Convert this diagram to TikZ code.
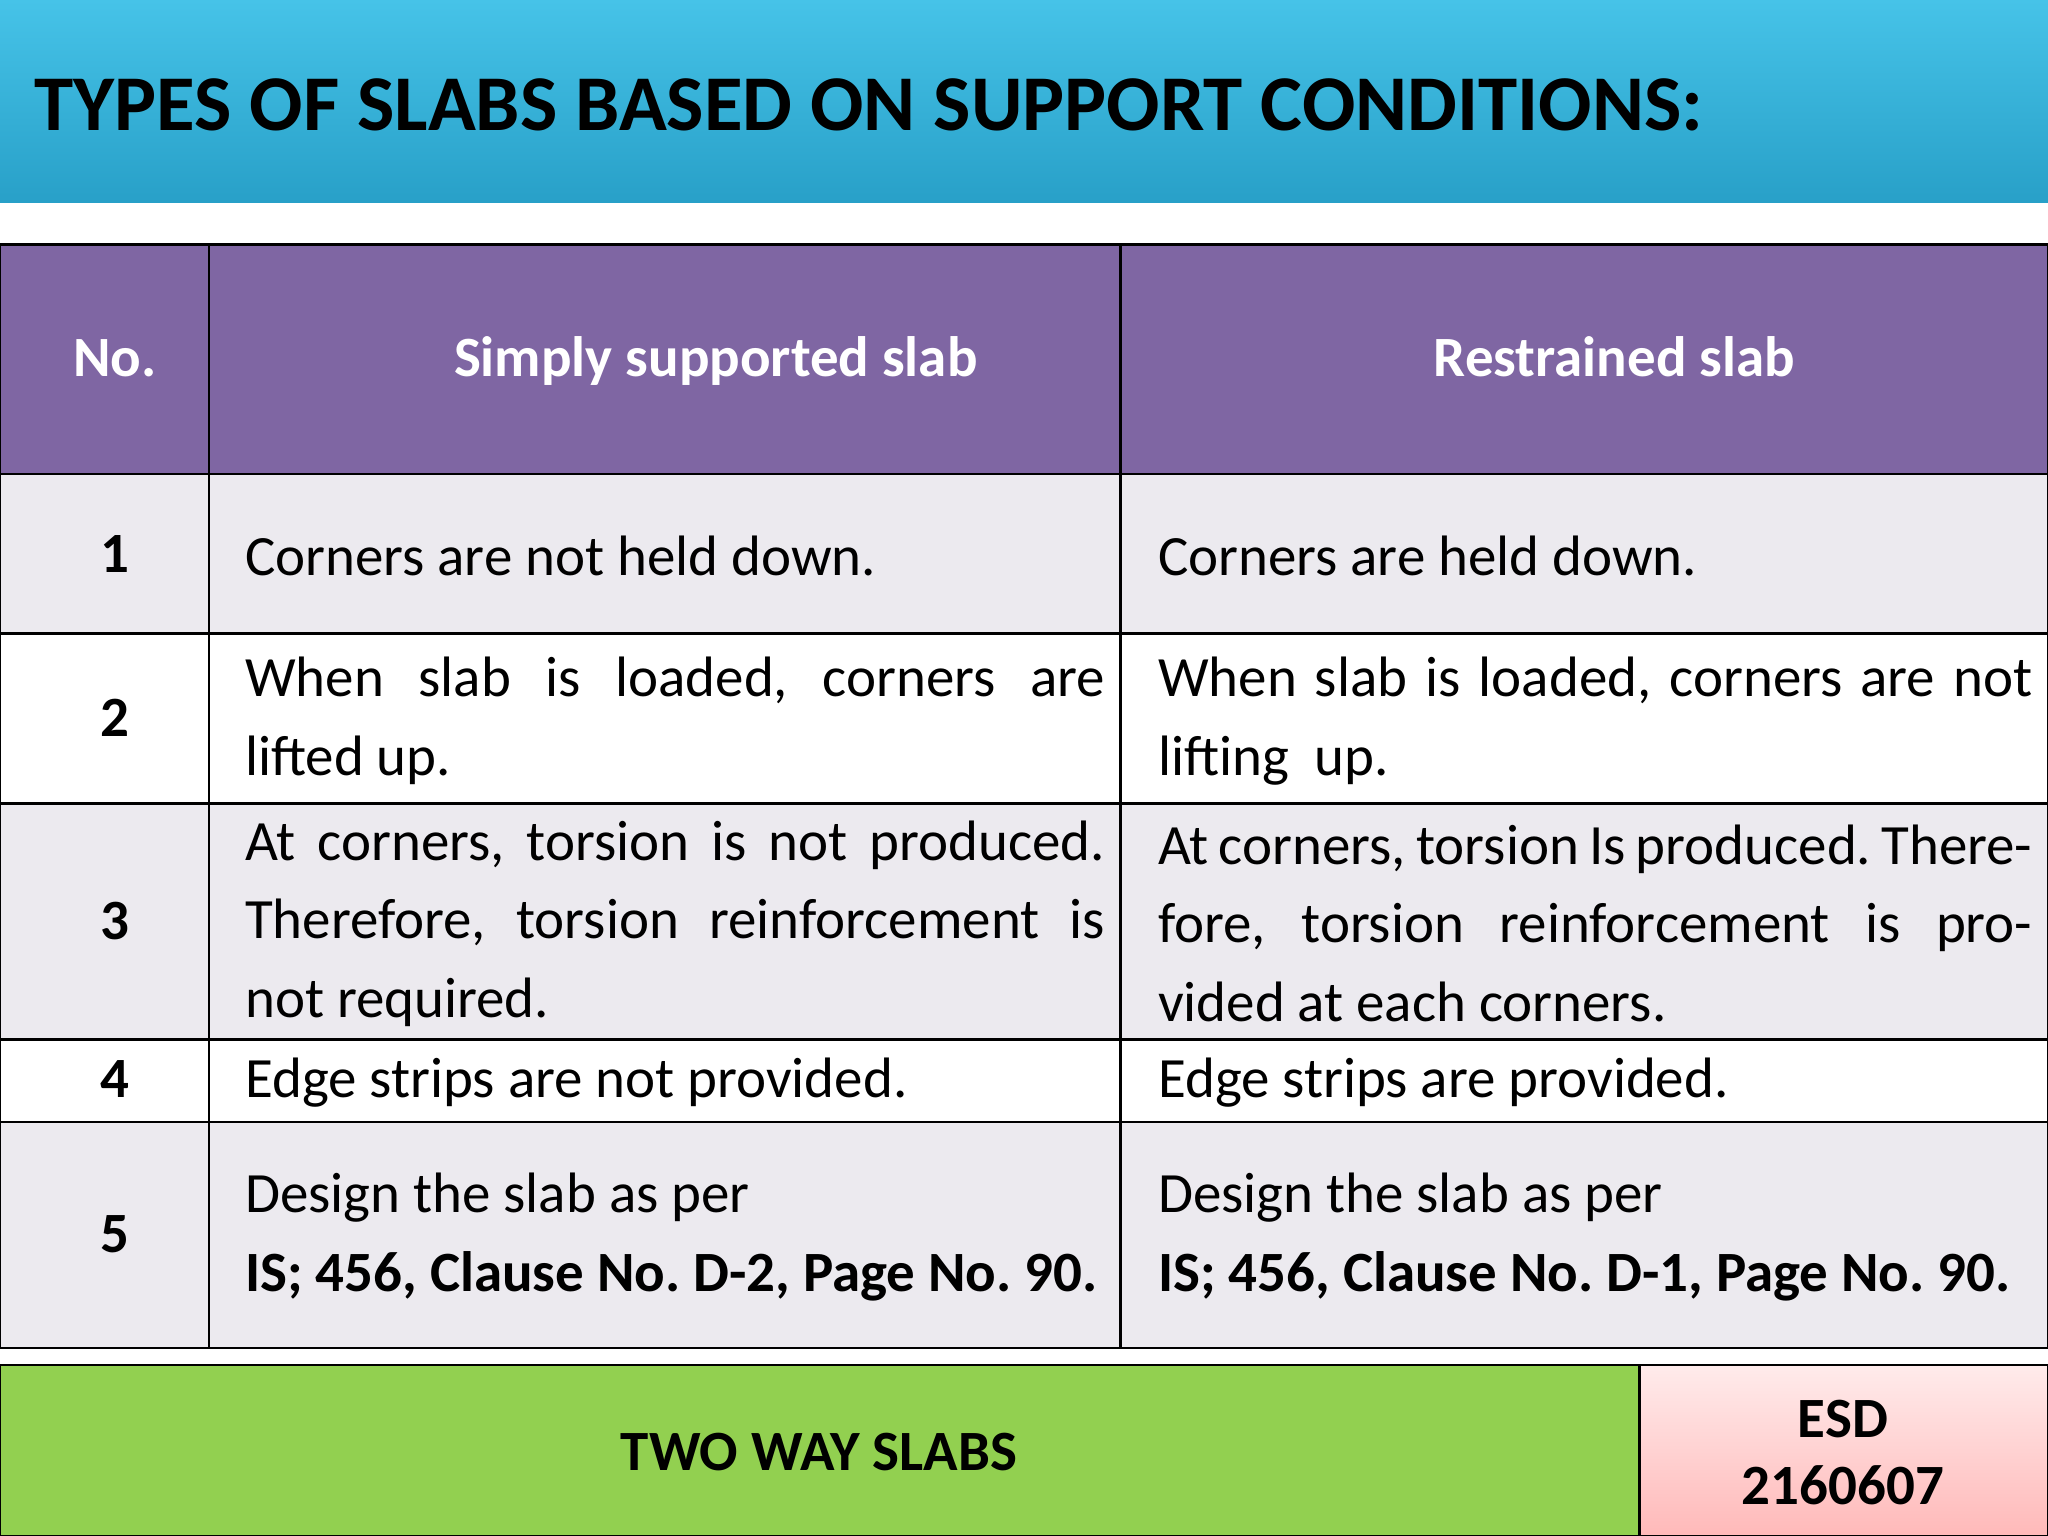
\documentclass[tikz,border=0pt]{standalone}
\usepackage{fontspec}
\setmainfont{Carlito}
\frenchspacing
\definecolor{hdr}{HTML}{7F66A3}
\definecolor{gr}{HTML}{ECEAEF}
\definecolor{lg}{HTML}{92D050}
\begin{document}
\begin{tikzpicture}[x=0.01cm,y=-0.01cm,
  cell/.style={anchor=west,align=justify,inner sep=0pt,font=\fontsize{12.4}{17.1}\selectfont\frenchspacing},
  num/.style={font=\fontsize{12.4}{17}\selectfont\bfseries},
  hd/.style={font=\fontsize{12.4}{17}\selectfont\bfseries,text=white}]
\useasboundingbox (0,0) rectangle (1568,1176);
\fill[white] (0,0) rectangle (1568,1176);
\shade[top color={rgb,255:red,70;green,195;blue,232}, bottom color={rgb,255:red,40;green,160;blue,200}] (0,0) rectangle (1568,155);
\node[anchor=west,font=\fontsize{17.2}{20}\selectfont\bfseries] (title) at (14,80) {TYPES OF SLABS BASED ON SUPPORT CONDITIONS:};
\fill[hdr] (0,187) rectangle (1568,363);
\fill[gr] (0,363) rectangle (1568,485);
\fill[gr] (0,615) rectangle (1568,796);
\fill[gr] (0,859) rectangle (1568,1032);
\draw[line width=0.6pt] (0,187) rectangle (1568,1032);
\foreach \y in {363,485,615,796,859} \draw[line width=0.6pt] (0,\y) -- (1568,\y);
\foreach \x in {160,858} \draw[line width=0.6pt] (\x,187) -- (\x,1032);
\node[hd] (h0) at (88,276) {\strut No.};
\node[hd] (h1) at (548,276) {\strut Simply supported slab};
\node[hd] (h2) at (1236,276) {\strut Restrained slab};
\foreach \n/\y in {1/426,2/552,3/707,4/828,5/947} \node[num] (n\n) at (88,\y) {\strut\n};
\node[cell,text width=6.58cm] (a1) at (187,426) {Corners are not held down.};
\node[cell,text width=6.69cm] (b1) at (886,426) {Corners are held down.};
\node[cell,text width=6.58cm] (a2) at (187,552) {When slab is loaded, corners are\linebreak lifted up.};
\node[cell,text width=6.69cm] (b2) at (886,552) {When slab is loaded, corners are not lifting\ \ up.};
\node[cell,text width=6.58cm] (a3) at (187,707) {At corners, torsion is not produced. Therefore, torsion reinforcement is not required.};
\node[cell,text width=6.69cm] (b3) at (886,707) {At corners, torsion Is produced. Therefore, torsion reinforcement is provided at each corners.};
\node[cell,text width=6.58cm] (a4) at (187,829) {Edge strips are not provided.};
\node[cell,text width=6.69cm] (b4) at (886,829) {Edge strips are provided.};
\node[cell,align=left] (a5) at (187,947) {Design the slab as per\\\textbf{IS; 456, Clause No. D-2, Page No. 90.}};
\node[cell,align=left] (b5) at (886,947) {Design the slab as per\\\textbf{IS; 456, Clause No. D-1, Page No. 90.}};
\fill[lg] (0,1045) rectangle (1255,1176);
\shade[top color={rgb,255:red,255;green,235;blue,235}, bottom color={rgb,255:red,255;green,185;blue,185}] (1255,1045) rectangle (1568,1176);
\draw[line width=0.6pt] (0,1045) rectangle (1568,1176);
\draw[line width=0.6pt] (1255,1045) -- (1255,1176);
\node[num] (f1) at (627,1112) {TWO WAY SLABS};
\node[align=center,inner sep=0pt,font=\fontsize{12.4}{14.5}\selectfont\bfseries] (f2) at (1411,1112) {ESD\\2160607};
\end{tikzpicture}
\end{document}
